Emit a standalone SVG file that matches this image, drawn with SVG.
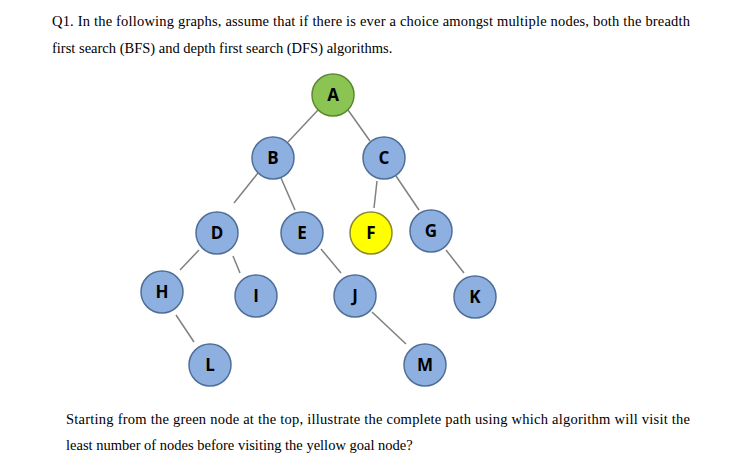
<svg xmlns="http://www.w3.org/2000/svg" width="732" height="469" viewBox="0 0 732 469">
<style>
.t{font-family:"Liberation Serif",serif;font-size:14.5px;fill:#000}
.n circle{fill:#8eb0e0;stroke:#4f6f98;stroke-width:1.5}
.n text{font-family:"Open Sans","DejaVu Sans",sans-serif;font-weight:bold;font-size:17px;text-anchor:middle;fill:#000}
#edges line{stroke:#808080;stroke-width:1.5}
</style>
<rect width="732" height="469" fill="#fff"/>
<text class="t" x="52" y="26" textLength="638" lengthAdjust="spacing">Q1. In the following graphs, assume that if there is ever a choice amongst multiple nodes, both the breadth</text>
<text class="t" x="52" y="53">first search (BFS) and depth first search (DFS) algorithms.</text>
<g id="edges">
<line x1="318" y1="110" x2="288" y2="142"/>
<line x1="348" y1="110" x2="370" y2="141"/>
<line x1="258" y1="173" x2="234" y2="203"/>
<line x1="281" y1="178" x2="295" y2="210"/>
<line x1="377" y1="181" x2="374" y2="208"/>
<line x1="396" y1="176" x2="419" y2="210"/>
<line x1="199" y1="250" x2="180" y2="270"/>
<line x1="233" y1="256" x2="240" y2="273"/>
<line x1="321" y1="249" x2="341" y2="273"/>
<line x1="446" y1="250" x2="464" y2="273"/>
<line x1="176" y1="315" x2="194" y2="342"/>
<line x1="372" y1="312" x2="406" y2="344"/>
</g>
<g id="A" class="n"><circle cx="333" cy="95" r="21" style="fill:#8cc453;stroke:#5a8a30"/><text x="333" y="101">A</text></g>
<g id="B" class="n"><circle cx="273" cy="158" r="21"/><text x="273" y="164">B</text></g>
<g id="C" class="n"><circle cx="384" cy="158" r="21"/><text x="384" y="164">C</text></g>
<g id="D" class="n"><circle cx="217" cy="233" r="21"/><text x="217" y="239">D</text></g>
<g id="E" class="n"><circle cx="302" cy="233" r="21"/><text x="302" y="239">E</text></g>
<g id="F" class="n"><circle cx="371" cy="233" r="21" style="fill:#ffff00;stroke:#8a8a30"/><text x="371" y="239">F</text></g>
<g id="G" class="n"><circle cx="431" cy="231" r="21"/><text x="431" y="237">G</text></g>
<g id="H" class="n"><circle cx="162" cy="292" r="21"/><text x="162" y="298">H</text></g>
<g id="I" class="n"><circle cx="256" cy="296" r="21"/><text x="256" y="302">I</text></g>
<g id="J" class="n"><circle cx="355" cy="296" r="21"/><text x="355" y="302">J</text></g>
<g id="K" class="n"><circle cx="475" cy="297" r="21"/><text x="475" y="303">K</text></g>
<g id="L" class="n"><circle cx="210" cy="365" r="21"/><text x="210" y="371">L</text></g>
<g id="M" class="n"><circle cx="425" cy="365" r="21"/><text x="425" y="371">M</text></g>
<text class="t" x="66" y="424" textLength="624" lengthAdjust="spacing">Starting from the green node at the top, illustrate the complete path using which algorithm will visit the</text>
<text class="t" x="66" y="450">least number of nodes before visiting the yellow goal node?</text>
</svg>
